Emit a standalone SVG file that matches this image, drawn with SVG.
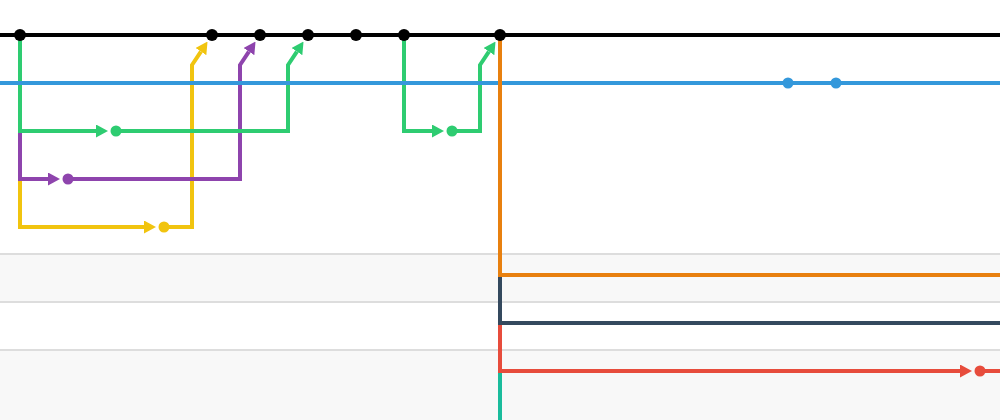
<svg xmlns="http://www.w3.org/2000/svg" width="1000" height="420" viewBox="0 0 1000 420">
<style>
.ln{fill:none;stroke-width:4;stroke-linejoin:miter;stroke-linecap:butt}
.sep{stroke:#dddddd;stroke-width:2}
</style>
<defs>
<marker id="a-green" markerUnits="userSpaceOnUse" markerWidth="12" markerHeight="13" refX="0" refY="6.5" orient="auto" viewBox="0 0 12 13"><path d="M0,0 L12,6.5 L0,13 Z" fill="#2ecc71"/></marker>
<marker id="a-purple" markerUnits="userSpaceOnUse" markerWidth="12" markerHeight="13" refX="0" refY="6.5" orient="auto" viewBox="0 0 12 13"><path d="M0,0 L12,6.5 L0,13 Z" fill="#8e44ad"/></marker>
<marker id="a-yellow" markerUnits="userSpaceOnUse" markerWidth="12" markerHeight="13" refX="0" refY="6.5" orient="auto" viewBox="0 0 12 13"><path d="M0,0 L12,6.5 L0,13 Z" fill="#f1c40f"/></marker>
<marker id="a-red" markerUnits="userSpaceOnUse" markerWidth="12" markerHeight="13" refX="0" refY="6.5" orient="auto" viewBox="0 0 12 13"><path d="M0,0 L12,6.5 L0,13 Z" fill="#e74c3c"/></marker>
</defs>
<rect x="0" y="0" width="1000" height="420" fill="#ffffff"/>
<g id="rows">
<rect x="0" y="254" width="1000" height="48" fill="#f8f8f8"/>
<rect x="0" y="350" width="1000" height="70" fill="#f8f8f8"/>
<line class="sep" x1="0" y1="254" x2="1000" y2="254"/>
<line class="sep" x1="0" y1="302" x2="1000" y2="302"/>
<line class="sep" x1="0" y1="350" x2="1000" y2="350"/>
</g>
<g id="connectors">
<path class="ln" stroke="#f1c40f" d="M20,179 V227 H144" marker-end="url(#a-yellow)"/>
<path class="ln" stroke="#f1c40f" d="M164,227 H192 V65 L200.9,51.6" marker-end="url(#a-yellow)"/>
<path class="ln" stroke="#8e44ad" d="M20,131 V179 H48" marker-end="url(#a-purple)"/>
<path class="ln" stroke="#8e44ad" d="M68,179 H240 V65 L248.9,51.6" marker-end="url(#a-purple)"/>
<path class="ln" stroke="#2ecc71" d="M20,35 V131 H96" marker-end="url(#a-green)"/>
<path class="ln" stroke="#2ecc71" d="M116,131 H288 V65 L296.9,51.6" marker-end="url(#a-green)"/>
<path class="ln" stroke="#2ecc71" d="M404,35 V131 H432" marker-end="url(#a-green)"/>
<path class="ln" stroke="#2ecc71" d="M452,131 H480 V65 L488.9,51.6" marker-end="url(#a-green)"/>
<path class="ln" stroke="#3498db" d="M0,83 H1000"/>
<path class="ln" stroke="#1abc9c" d="M500,371 V420"/>
<path class="ln" stroke="#e74c3c" d="M500,323 V371 H960" marker-end="url(#a-red)"/>
<path class="ln" stroke="#e74c3c" d="M980,371 H1000"/>
<path class="ln" stroke="#34495e" d="M500,275 V323 H1000"/>
<path class="ln" stroke="#e8800f" d="M500,35 V275 H1000"/>
<path class="ln" stroke="#000000" d="M0,35 H1000"/>
</g>
<g id="master-commits" fill="#000000">
<circle cx="20" cy="35" r="6"/>
<circle cx="212" cy="35" r="6"/>
<circle cx="260" cy="35" r="6"/>
<circle cx="308" cy="35" r="6"/>
<circle cx="356" cy="35" r="6"/>
<circle cx="404" cy="35" r="6"/>
<circle cx="500" cy="35" r="6"/>
</g>
<g id="develop-commits" fill="#3498db">
<circle cx="788" cy="83" r="5.5"/>
<circle cx="836" cy="83" r="5.5"/>
</g>
<g id="feature-green-1"><circle cx="116" cy="131" r="5.5" fill="#2ecc71"/></g>
<g id="feature-purple"><circle cx="68" cy="179" r="5.5" fill="#8e44ad"/></g>
<g id="feature-yellow"><circle cx="164" cy="227" r="5.5" fill="#f1c40f"/></g>
<g id="feature-green-2"><circle cx="452" cy="131" r="5.5" fill="#2ecc71"/></g>
<g id="feature-red"><circle cx="980" cy="371" r="5.5" fill="#e74c3c"/></g>
</svg>
